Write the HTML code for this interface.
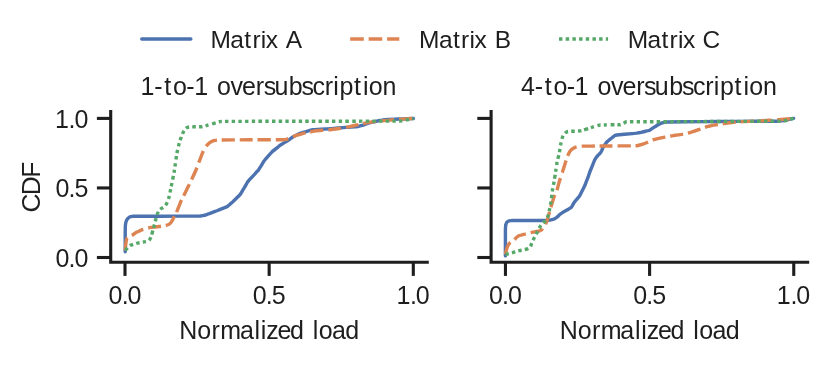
<!DOCTYPE html>
<html><head><meta charset="utf-8"><title>CDF of normalized load</title>
<style>
html,body{margin:0;padding:0;background:#fff;}
svg{display:block;}
.t text{font-family:"Liberation Sans","DejaVu Sans",sans-serif;font-size:24.5px;fill:#1e1e1e;}
</style></head><body>
<svg width="829" height="365" viewBox="0 0 829 365">
<rect width="829" height="365" fill="#ffffff"/>
<line x1="141.75" x2="190.85" y1="39.0" y2="39.0" stroke="#4C72B0" stroke-width="3.4" stroke-linecap="round"/>
<line x1="350.2" x2="399.3" y1="39.0" y2="39.0" stroke="#DD8452" stroke-width="3.4" stroke-dasharray="13.6 4.85"/>
<line x1="559.0" x2="608.1" y1="39.0" y2="39.0" stroke="#55A868" stroke-width="3.4" stroke-dasharray="3.45 3.24"/>
<g class="t">
<text x="210.45 230.27 244.25 252.38 260.78 265.76 279.24 285.85" y="47.50" style="font-size:24.5px">Matrix A</text>
<text x="419.10 438.92 452.90 461.03 469.43 474.41 487.89 494.65" y="47.50" style="font-size:24.5px">Matrix B</text>
<text x="627.65 647.47 661.45 669.58 677.98 682.96 696.44 702.49" y="47.50" style="font-size:24.5px">Matrix C</text>
<text x="140.50 154.19 164.30 172.95 186.29 194.15 207.90 216.95 230.48 241.92 255.71 263.65 274.38 288.68 301.60 312.45 324.71 333.26 339.58 354.05 363.01 368.80 382.57" y="94.80" style="font-size:25px">1-to-1 oversubscription</text>
<text x="521.00 534.64 544.75 553.40 566.74 574.60 588.35 597.40 610.93 622.38 636.16 644.10 654.83 669.13 682.05 692.90 705.16 713.71 720.03 734.50 743.46 749.25 763.02" y="94.80" style="font-size:25px">4-to-1 oversubscription</text>
<text x="179.34 197.35 211.61 220.37 239.90 254.60 260.71 266.27 277.55 290.04 303.79 312.68 318.85 332.10 345.22" y="338.90" style="font-size:25px">Normalized load</text>
<text x="559.79 577.80 592.06 600.82 620.35 635.05 641.16 646.72 658.00 670.49 684.24 693.13 699.30 712.55 725.67" y="338.90" style="font-size:25px">Normalized load</text>
<text x="55.05 68.60 74.50" y="127.60" style="font-size:25px">1.0</text>
<text x="55.50 68.60 74.50" y="197.15" style="font-size:25px">0.5</text>
<text x="55.50 68.60 74.50" y="266.70" style="font-size:25px">0.0</text>
<text x="108.55 121.65 127.55" y="304.00" style="font-size:25px">0.0</text>
<text x="252.70 265.80 271.70" y="304.00" style="font-size:25px">0.5</text>
<text x="396.40 409.95 415.85" y="304.00" style="font-size:25px">1.0</text>
<text x="489.00 502.10 508.00" y="304.00" style="font-size:25px">0.0</text>
<text x="633.15 646.25 652.15" y="304.00" style="font-size:25px">0.5</text>
<text x="776.85 790.40 796.30" y="304.00" style="font-size:25px">1.0</text>
<text transform="translate(40.3,212.6) rotate(-90)" style="font-size:26.2px;letter-spacing:-1.5px">CDF</text>
</g>
<path d="M125.2,251.8 L125.2,250.7 Q125.2,249.6 125.2,244.9 Q125.2,240.2 125.2,239.1 Q125.2,238.0 125.2,236.9 Q125.2,235.8 125.2,232.0 Q125.3,228.2 125.3,227.1 Q125.3,226.0 125.6,223.8 Q125.9,221.5 126.7,220.1 Q127.4,218.6 128.5,217.8 Q129.6,216.9 130.8,216.6 Q132.0,216.3 133.1,216.3 Q134.2,216.3 146.0,216.2 Q157.8,216.2 158.9,216.2 Q160.0,216.2 161.1,216.2 Q162.2,216.2 180.1,216.1 Q198.0,216.1 199.1,216.1 Q200.2,216.1 202.6,215.6 Q205.0,215.2 206.0,214.8 Q207.1,214.5 207.7,214.2 Q208.2,214.0 209.3,213.7 Q210.3,213.3 211.3,212.9 Q212.4,212.5 214.4,211.7 Q216.5,210.9 217.6,210.5 Q218.6,210.1 219.6,209.7 Q220.6,209.3 222.8,208.4 Q225.0,207.6 226.0,207.2 Q227.0,206.8 227.8,206.1 Q228.7,205.4 230.3,203.9 Q231.9,202.5 232.8,201.8 Q233.6,201.1 234.4,200.3 Q235.2,199.5 236.9,197.8 Q238.7,196.0 239.5,195.2 Q240.3,194.4 240.9,193.5 Q241.4,192.5 244.2,187.9 Q246.9,183.2 247.4,182.2 Q248.0,181.3 248.8,180.5 Q249.5,179.7 253.1,175.9 Q256.7,172.0 257.4,171.2 Q258.2,170.4 258.8,169.5 Q259.4,168.5 261.4,165.4 Q263.3,162.2 263.9,161.2 Q264.5,160.3 265.2,159.5 Q266.0,158.7 268.4,155.9 Q270.8,153.2 271.6,152.4 Q272.3,151.6 273.1,150.9 Q274.0,150.2 276.0,148.6 Q277.9,147.0 278.8,146.3 Q279.6,145.6 280.5,145.0 Q281.5,144.4 284.0,142.9 Q286.5,141.4 287.5,140.8 Q288.4,140.2 289.3,139.6 Q290.2,138.9 290.9,138.4 Q291.7,137.9 292.6,137.2 Q293.5,136.6 294.5,136.1 Q295.5,135.7 297.6,134.6 Q299.8,133.6 300.8,133.2 Q301.8,132.7 302.9,132.4 Q303.9,132.1 306.8,131.3 Q309.7,130.5 310.7,130.2 Q311.8,129.9 312.9,129.8 Q314.0,129.8 321.0,129.3 Q328.0,128.8 329.1,128.8 Q330.2,128.7 331.3,128.6 Q332.4,128.5 338.5,128.0 Q344.7,127.5 345.8,127.4 Q346.9,127.3 348.0,127.3 Q349.1,127.2 351.3,127.1 Q353.5,127.0 354.6,126.9 Q355.7,126.9 357.9,126.5 Q360.0,126.0 362.1,125.4 Q364.1,124.8 365.1,124.4 Q366.2,124.1 367.8,123.5 Q369.3,123.0 370.4,122.7 Q371.4,122.3 372.5,122.1 Q373.6,121.9 376.2,121.3 Q378.8,120.7 379.9,120.5 Q381.0,120.3 382.1,120.2 Q383.2,120.0 384.6,119.8 Q386.1,119.7 387.2,119.5 Q388.3,119.4 389.4,119.4 Q390.5,119.3 394.3,119.2 Q398.1,119.1 399.2,119.0 Q400.3,119.0 401.4,119.0 Q402.5,118.9 406.9,118.7 Q411.2,118.5 412.3,118.5 L413.4,118.5" fill="none" stroke="#4C72B0" stroke-width="3.4" stroke-linejoin="round" stroke-linecap="round"/>
<path d="M125.2,250.4 L125.3,249.3 Q125.4,248.2 125.5,247.2 Q125.6,246.2 125.7,245.1 Q125.8,244.0 125.9,242.9 Q126.1,241.8 126.2,241.3 Q126.2,240.9 126.4,239.8 Q126.5,238.7 127.8,237.8 Q129.0,236.8 130.7,236.1 Q132.3,235.4 134.1,233.9 Q135.9,232.5 136.9,232.0 Q137.9,231.6 138.8,231.2 Q139.7,230.7 140.7,230.3 Q141.7,229.8 142.8,229.5 Q143.8,229.2 145.1,228.8 Q146.3,228.4 147.3,228.1 Q148.4,227.8 149.5,227.7 Q150.6,227.5 154.2,227.1 Q157.9,226.7 159.0,226.5 Q160.1,226.4 161.2,226.2 Q162.3,226.1 163.0,226.0 Q163.7,225.9 164.8,225.8 Q165.9,225.6 167.4,225.0 Q169.0,224.4 170.1,223.5 Q171.2,222.6 172.2,220.6 Q173.3,218.6 173.8,217.6 Q174.3,216.7 174.7,216.1 Q175.0,215.5 175.5,214.6 Q176.0,213.6 176.4,212.6 Q176.8,211.6 178.5,207.3 Q180.2,203.1 180.6,202.1 Q181.0,201.1 181.5,200.1 Q182.0,199.1 184.8,193.6 Q187.5,188.0 188.0,187.0 Q188.5,186.0 189.0,185.0 Q189.4,184.0 192.1,178.5 Q194.7,173.0 195.1,172.0 Q195.6,171.0 196.0,170.0 Q196.4,168.9 198.3,163.9 Q200.2,158.9 200.6,157.8 Q201.0,156.8 201.4,155.8 Q201.8,154.8 202.2,153.7 Q202.7,152.5 203.1,151.5 Q203.5,150.5 204.8,148.4 Q206.0,146.3 206.8,145.5 Q207.5,144.7 207.8,144.5 Q208.0,144.3 208.7,143.5 Q209.5,142.7 211.2,141.8 Q213.0,140.8 215.0,140.4 Q217.0,140.0 218.1,140.0 Q219.2,140.0 233.5,139.9 Q247.8,139.8 248.9,139.8 Q250.0,139.8 251.1,139.8 Q252.2,139.8 267.6,139.8 Q282.9,139.7 284.0,139.7 Q285.1,139.7 286.1,139.4 Q287.2,139.0 287.6,138.9 Q288.0,138.8 289.1,138.4 Q290.1,138.1 291.1,137.7 Q292.1,137.2 293.5,136.6 Q294.8,136.0 295.8,135.5 Q296.8,135.1 297.9,134.8 Q298.9,134.6 301.8,133.8 Q304.7,133.1 305.7,132.9 Q306.8,132.6 307.9,132.4 Q309.0,132.2 311.0,131.8 Q313.0,131.3 314.1,131.1 Q315.2,130.9 316.3,130.8 Q317.4,130.7 322.7,130.3 Q328.0,129.9 329.1,129.8 Q330.2,129.7 331.3,129.5 Q332.4,129.4 335.2,129.0 Q338.1,128.6 339.2,128.5 Q340.3,128.3 341.4,128.1 Q342.5,127.9 345.0,127.5 Q347.5,127.1 348.6,126.9 Q349.7,126.7 350.8,126.4 Q351.8,126.2 354.5,125.5 Q357.2,124.8 358.2,124.6 Q359.3,124.3 360.4,124.1 Q361.5,123.9 364.1,123.3 Q366.8,122.8 367.9,122.6 Q369.0,122.4 370.1,122.2 Q371.2,122.1 372.6,121.8 Q374.0,121.6 375.1,121.5 Q376.2,121.3 377.3,121.2 Q378.4,121.1 381.0,120.9 Q383.6,120.7 384.7,120.6 Q385.8,120.5 386.9,120.4 Q388.0,120.3 390.1,120.1 Q392.1,119.9 393.2,119.8 Q394.3,119.7 395.4,119.6 Q396.5,119.5 399.1,119.3 Q401.7,119.2 402.8,119.1 Q403.9,119.0 405.0,118.9 Q406.1,118.9 408.6,118.7 Q411.2,118.6 412.3,118.5 L413.4,118.5" fill="none" stroke="#DD8452" stroke-width="3.4" stroke-linejoin="round" stroke-linecap="butt" stroke-dasharray="12.95 5.0"/>
<path d="M125.2,250.4 L126.0,249.6 Q126.7,248.8 127.5,248.0 Q128.3,247.2 129.0,246.4 Q129.8,245.6 130.8,245.2 Q131.9,244.9 133.1,244.4 Q134.3,244.0 135.4,243.7 Q136.4,243.3 137.5,243.1 Q138.6,242.9 139.7,242.7 Q140.7,242.5 141.8,242.3 Q142.9,242.1 144.0,241.9 Q145.1,241.8 145.6,241.7 Q146.0,241.6 147.1,241.5 Q148.2,241.3 149.0,240.4 Q149.8,239.6 150.4,238.3 Q151.1,237.0 151.4,235.9 Q151.7,234.9 152.3,232.5 Q153.0,230.1 153.3,229.1 Q153.6,228.0 153.9,226.9 Q154.1,225.9 154.4,224.7 Q154.8,223.5 155.0,222.5 Q155.3,221.4 155.6,220.3 Q155.8,219.3 155.9,218.8 Q156.1,218.2 156.3,217.2 Q156.6,216.1 157.0,215.1 Q157.3,214.0 157.6,213.3 Q157.8,212.7 158.1,211.6 Q158.5,210.6 159.8,209.6 Q161.0,208.5 162.7,207.7 Q164.3,206.9 165.6,205.2 Q166.8,203.5 167.7,201.4 Q168.5,199.4 168.7,198.3 Q169.0,197.2 169.8,193.6 Q170.5,189.9 170.8,188.8 Q171.0,187.7 171.2,186.6 Q171.4,185.5 172.7,179.3 Q173.9,173.2 174.1,172.1 Q174.3,171.0 174.5,169.9 Q174.6,168.8 175.6,162.2 Q176.5,155.6 176.6,154.5 Q176.8,153.4 177.1,152.3 Q177.3,151.3 178.2,147.7 Q179.0,144.1 179.2,143.1 Q179.5,142.0 179.9,141.0 Q180.2,139.9 180.7,138.7 Q181.1,137.4 181.4,136.3 Q181.8,135.3 182.3,134.3 Q182.7,133.3 183.1,132.6 Q183.4,131.8 183.8,130.8 Q184.3,129.8 185.3,128.8 Q186.3,127.7 187.6,127.3 Q188.8,126.9 189.9,126.9 Q191.0,126.9 195.4,126.8 Q199.7,126.8 200.8,126.8 Q201.9,126.8 203.0,126.5 Q204.0,126.2 211.4,124.1 Q218.9,122.0 219.9,121.7 Q221.0,121.4 222.1,121.4 Q223.2,121.4 260.5,121.3 Q297.8,121.3 298.9,121.3 Q300.0,121.3 301.1,121.3 Q302.2,121.3 350.1,121.2 Q398.1,121.1 399.2,121.1 Q400.3,121.1 401.4,120.9 Q402.5,120.7 403.9,120.4 Q405.3,120.1 406.4,119.9 Q407.5,119.7 408.6,119.5 Q409.7,119.2 410.4,119.1 Q411.2,118.9 412.3,118.7 L413.4,118.5" fill="none" stroke="#55A868" stroke-width="3.4" stroke-linejoin="round" stroke-linecap="butt" stroke-dasharray="3.45 3.24"/>
<path d="M505.4,255.9 L505.4,254.8 Q505.4,253.7 505.4,245.4 Q505.4,237.2 505.4,236.1 Q505.4,235.0 505.4,233.9 Q505.4,232.8 505.4,230.8 Q505.5,228.7 505.5,227.6 Q505.5,226.5 505.8,225.1 Q506.0,223.6 506.6,222.6 Q507.2,221.7 508.2,221.2 Q509.2,220.7 510.4,220.6 Q511.5,220.5 512.6,220.5 Q513.7,220.5 520.8,220.5 Q527.8,220.5 528.9,220.5 Q530.0,220.5 531.1,220.5 Q532.2,220.5 539.0,220.5 Q545.8,220.5 546.9,220.5 Q548.0,220.5 550.0,220.1 Q552.0,219.7 553.8,219.1 Q555.5,218.4 556.3,217.7 Q557.2,216.9 558.4,215.9 Q559.5,214.9 560.4,214.1 Q561.2,213.4 562.1,212.8 Q563.1,212.3 563.6,211.9 Q564.1,211.6 565.1,211.1 Q566.0,210.5 567.0,210.0 Q567.9,209.4 568.6,209.1 Q569.3,208.7 570.2,208.1 Q571.2,207.6 571.8,206.6 Q572.3,205.7 572.9,204.8 Q573.4,203.8 573.9,202.9 Q574.5,201.9 575.2,201.1 Q576.0,200.2 577.0,199.0 Q578.1,197.8 578.9,196.9 Q579.6,196.1 580.1,195.1 Q580.6,194.1 582.1,191.1 Q583.6,188.0 584.1,187.0 Q584.6,186.0 585.0,185.0 Q585.4,184.0 586.2,181.8 Q587.1,179.7 587.5,178.7 Q587.9,177.7 588.3,176.7 Q588.6,175.6 589.0,174.3 Q589.5,173.1 589.8,172.0 Q590.2,171.0 590.6,170.0 Q591.0,169.0 592.4,165.6 Q593.8,162.1 594.2,161.1 Q594.6,160.1 595.8,158.2 Q597.0,156.3 597.8,155.5 Q598.6,154.8 598.9,154.4 Q599.2,154.1 600.0,153.4 Q600.8,152.6 601.5,151.1 Q602.2,149.5 602.8,148.0 Q603.4,146.5 604.1,145.6 Q604.7,144.7 605.1,144.2 Q605.5,143.8 606.1,142.9 Q606.8,142.0 607.6,141.3 Q608.5,140.6 608.9,140.2 Q609.3,139.8 610.2,139.1 Q611.0,138.4 611.9,137.8 Q612.8,137.1 613.3,136.8 Q613.8,136.4 614.7,135.7 Q615.6,135.1 616.7,135.0 Q617.8,134.9 624.5,134.3 Q631.2,133.7 632.3,133.6 Q633.4,133.5 634.5,133.4 Q635.6,133.2 636.8,133.1 Q637.9,132.9 639.0,132.7 Q640.1,132.6 641.2,132.3 Q642.2,132.1 644.7,131.5 Q647.2,130.9 648.2,130.7 Q649.3,130.4 650.2,129.8 Q651.1,129.2 653.9,127.4 Q656.7,125.6 657.6,125.0 Q658.5,124.4 660.2,123.6 Q662.0,122.8 664.4,122.4 Q666.8,122.0 667.9,122.0 Q669.0,122.0 683.4,121.8 Q697.8,121.6 698.9,121.6 Q700.0,121.6 701.1,121.6 Q702.2,121.6 719.0,121.5 Q735.8,121.4 736.9,121.4 Q738.0,121.4 739.1,121.4 Q740.2,121.4 757.5,121.3 Q774.8,121.3 775.9,121.3 Q777.0,121.3 778.1,121.2 Q779.2,121.1 781.0,120.8 Q782.8,120.6 783.9,120.5 Q785.0,120.4 786.1,120.2 Q787.1,119.9 789.3,119.4 Q791.5,118.9 792.5,118.6 L793.6,118.4" fill="none" stroke="#4C72B0" stroke-width="3.4" stroke-linejoin="round" stroke-linecap="round"/>
<path d="M505.4,254.3 L505.6,253.2 Q505.9,252.2 505.9,251.9 Q506.0,251.6 506.3,250.6 Q506.5,249.5 507.0,247.8 Q507.5,246.1 508.6,244.4 Q509.8,242.8 510.9,242.1 Q512.0,241.3 513.4,240.4 Q514.7,239.5 515.6,238.4 Q516.5,237.3 517.6,236.5 Q518.8,235.7 519.9,235.4 Q520.9,235.1 521.3,235.1 Q521.7,235.0 522.7,234.7 Q523.8,234.4 524.9,234.1 Q525.9,233.8 526.6,233.7 Q527.4,233.5 528.4,233.2 Q529.5,232.9 530.6,232.7 Q531.7,232.5 534.5,231.9 Q537.3,231.3 538.4,231.1 Q539.5,230.9 540.9,230.2 Q542.3,229.6 543.4,227.8 Q544.5,226.1 545.0,225.1 Q545.5,224.1 545.8,223.6 Q546.0,223.1 546.5,222.1 Q547.0,221.1 547.3,220.0 Q547.6,219.0 548.6,215.2 Q549.7,211.5 550.0,210.5 Q550.3,209.4 550.6,208.3 Q550.9,207.3 552.0,203.6 Q553.1,199.8 553.4,198.8 Q553.7,197.7 554.1,196.7 Q554.6,195.7 555.4,193.9 Q556.1,192.2 556.6,191.2 Q557.0,190.2 557.3,189.1 Q557.6,188.1 558.2,185.6 Q558.9,183.1 559.2,182.1 Q559.5,181.0 559.8,180.0 Q560.2,178.9 561.1,176.0 Q562.1,173.1 562.5,172.0 Q562.8,171.0 563.1,169.9 Q563.5,168.9 564.5,165.6 Q565.5,162.2 565.9,161.2 Q566.2,160.1 566.6,159.1 Q566.9,158.0 567.1,157.6 Q567.3,157.1 567.6,156.0 Q568.0,155.0 568.9,153.2 Q569.8,151.5 570.9,150.2 Q572.0,149.0 573.5,148.2 Q575.0,147.3 576.8,146.9 Q578.5,146.4 580.3,146.2 Q582.1,146.1 583.2,146.1 Q584.3,146.1 591.0,146.1 Q597.8,146.0 598.9,146.0 Q600.0,146.0 601.1,146.0 Q602.2,146.0 618.0,145.9 Q633.8,145.9 634.9,145.9 Q636.0,145.9 638.0,145.5 Q640.1,145.1 641.1,144.7 Q642.2,144.3 643.5,143.8 Q644.7,143.4 645.8,143.0 Q646.8,142.6 647.8,142.2 Q648.8,141.7 650.2,141.1 Q651.6,140.6 652.6,140.1 Q653.6,139.7 654.7,139.4 Q655.7,139.1 656.8,138.8 Q657.9,138.6 658.9,138.3 Q660.0,138.0 661.1,137.8 Q662.2,137.6 662.9,137.5 Q663.5,137.4 664.6,137.2 Q665.7,137.0 666.8,136.8 Q667.9,136.6 668.7,136.4 Q669.5,136.2 670.6,136.0 Q671.7,135.8 672.8,135.7 Q673.9,135.5 675.4,135.3 Q676.8,135.1 677.9,134.9 Q679.0,134.8 680.1,134.6 Q681.2,134.5 682.0,134.4 Q682.8,134.2 683.9,134.1 Q685.0,133.9 686.1,133.6 Q687.1,133.3 687.4,133.2 Q687.7,133.2 688.7,132.9 Q689.8,132.6 690.8,132.3 Q691.9,131.9 692.6,131.7 Q693.4,131.5 694.5,131.1 Q695.5,130.8 696.5,130.4 Q697.6,130.1 698.7,129.7 Q699.8,129.2 700.9,128.9 Q701.9,128.5 702.9,128.1 Q704.0,127.7 704.3,127.6 Q704.6,127.5 705.7,127.1 Q706.7,126.7 707.8,126.4 Q708.8,126.2 709.6,126.0 Q710.4,125.8 711.4,125.6 Q712.5,125.3 713.6,125.1 Q714.7,125.0 715.6,124.8 Q716.6,124.6 717.7,124.5 Q718.8,124.3 719.9,124.1 Q721.0,124.0 721.8,123.8 Q722.6,123.7 723.7,123.6 Q724.8,123.4 725.9,123.3 Q727.0,123.1 729.6,122.8 Q732.2,122.5 733.3,122.3 Q734.4,122.2 735.5,122.1 Q736.6,122.0 738.0,121.9 Q739.5,121.8 740.6,121.7 Q741.7,121.6 742.8,121.6 Q743.9,121.6 749.0,121.4 Q754.0,121.3 755.1,121.3 Q756.2,121.3 757.3,121.2 Q758.4,121.1 763.1,120.8 Q767.8,120.4 768.9,120.3 Q770.0,120.2 771.1,120.1 Q772.2,120.1 775.0,119.9 Q777.8,119.7 778.9,119.7 Q780.0,119.6 781.1,119.5 Q782.2,119.4 786.8,119.0 Q791.4,118.6 792.5,118.5 L793.6,118.4" fill="none" stroke="#DD8452" stroke-width="3.4" stroke-linejoin="round" stroke-linecap="butt" stroke-dasharray="13.05 5.0"/>
<path d="M505.4,254.3 L506.5,254.1 Q507.6,253.8 508.4,253.7 Q509.2,253.5 510.3,253.2 Q511.4,253.0 512.4,252.7 Q513.5,252.3 514.7,251.9 Q515.9,251.5 517.0,251.1 Q518.0,250.8 519.1,250.6 Q520.2,250.4 521.7,250.2 Q523.2,249.9 524.3,249.7 Q525.4,249.5 527.1,249.0 Q528.8,248.5 529.6,247.5 Q530.5,246.5 530.9,245.5 Q531.3,244.4 531.6,243.4 Q532.0,242.4 532.4,241.3 Q532.8,240.3 533.4,239.3 Q533.9,238.4 534.5,237.4 Q535.0,236.5 535.5,235.6 Q536.1,234.6 536.6,233.6 Q537.1,232.6 537.3,232.1 Q537.5,231.6 538.0,230.6 Q538.5,229.6 539.0,228.6 Q539.5,227.7 539.8,227.2 Q540.1,226.7 540.6,225.8 Q541.1,224.8 541.9,224.1 Q542.8,223.3 543.6,222.6 Q544.4,221.9 545.3,221.1 Q546.1,220.4 546.5,219.4 Q546.9,218.4 547.4,217.4 Q547.8,216.4 548.2,215.4 Q548.6,214.4 548.8,213.3 Q549.0,212.2 549.9,207.8 Q550.7,203.3 550.9,202.2 Q551.1,201.1 551.2,200.0 Q551.4,198.9 551.8,195.2 Q552.2,191.6 552.4,190.5 Q552.5,189.4 552.7,188.3 Q552.9,187.2 553.4,185.2 Q553.8,183.2 554.0,182.1 Q554.2,181.0 554.4,179.9 Q554.5,178.8 555.0,176.0 Q555.5,173.2 555.6,172.1 Q555.8,171.0 555.9,169.9 Q556.1,168.8 556.4,166.6 Q556.7,164.4 556.9,163.3 Q557.0,162.2 557.3,161.1 Q557.5,160.1 558.1,157.8 Q558.7,155.5 558.9,154.5 Q559.2,153.4 559.4,152.3 Q559.6,151.2 560.2,147.6 Q560.8,143.9 561.0,142.8 Q561.2,141.7 561.8,139.6 Q562.3,137.5 563.0,136.1 Q563.7,134.7 564.6,133.6 Q565.5,132.5 566.7,131.9 Q567.9,131.4 569.0,131.4 Q570.1,131.3 574.5,131.2 Q579.0,131.0 580.1,130.9 Q581.2,130.9 582.2,130.5 Q583.3,130.2 586.2,129.2 Q589.2,128.2 590.3,127.9 Q591.3,127.5 592.4,127.2 Q593.4,126.9 595.5,126.2 Q597.5,125.6 598.5,125.3 Q599.6,125.0 600.7,125.0 Q601.8,125.0 610.2,124.8 Q618.7,124.7 619.8,124.7 Q620.9,124.7 621.9,124.1 Q622.8,123.6 623.4,123.2 Q624.0,122.9 624.9,122.4 Q625.9,121.8 627.0,121.8 Q628.1,121.8 663.0,121.7 Q697.8,121.6 698.9,121.6 Q700.0,121.6 701.1,121.6 Q702.2,121.6 719.0,121.5 Q735.8,121.4 736.9,121.4 Q738.0,121.4 739.1,121.4 Q740.2,121.4 759.5,121.3 Q778.8,121.3 779.9,121.3 Q781.0,121.3 782.1,121.1 Q783.2,120.9 784.0,120.8 Q784.8,120.7 785.9,120.5 Q787.0,120.3 788.1,120.0 Q789.1,119.7 790.3,119.3 Q791.5,119.0 792.5,118.7 L793.6,118.4" fill="none" stroke="#55A868" stroke-width="3.4" stroke-linejoin="round" stroke-linecap="butt" stroke-dasharray="3.45 3.24"/>
<path d="M110.7,109.9 V262.2 H428.8" fill="none" stroke="#1e1e1e" stroke-width="3.1" stroke-linecap="butt" stroke-linejoin="miter"/>
<line x1="96.9" x2="110.7" y1="118.40" y2="118.40" stroke="#1e1e1e" stroke-width="3.1"/>
<line x1="96.9" x2="110.7" y1="187.95" y2="187.95" stroke="#1e1e1e" stroke-width="3.1"/>
<line x1="96.9" x2="110.7" y1="257.50" y2="257.50" stroke="#1e1e1e" stroke-width="3.1"/>
<line x1="125.00" x2="125.00" y1="262.2" y2="275.9" stroke="#1e1e1e" stroke-width="3.1"/>
<line x1="269.15" x2="269.15" y1="262.2" y2="275.9" stroke="#1e1e1e" stroke-width="3.1"/>
<line x1="413.30" x2="413.30" y1="262.2" y2="275.9" stroke="#1e1e1e" stroke-width="3.1"/>
<path d="M491.1,109.9 V262.2 H809.2" fill="none" stroke="#1e1e1e" stroke-width="3.1" stroke-linecap="butt" stroke-linejoin="miter"/>
<line x1="477.3" x2="491.1" y1="118.40" y2="118.40" stroke="#1e1e1e" stroke-width="3.1"/>
<line x1="477.3" x2="491.1" y1="187.95" y2="187.95" stroke="#1e1e1e" stroke-width="3.1"/>
<line x1="477.3" x2="491.1" y1="257.50" y2="257.50" stroke="#1e1e1e" stroke-width="3.1"/>
<line x1="505.45" x2="505.45" y1="262.2" y2="275.9" stroke="#1e1e1e" stroke-width="3.1"/>
<line x1="649.60" x2="649.60" y1="262.2" y2="275.9" stroke="#1e1e1e" stroke-width="3.1"/>
<line x1="793.75" x2="793.75" y1="262.2" y2="275.9" stroke="#1e1e1e" stroke-width="3.1"/>
</svg>
</body></html>
